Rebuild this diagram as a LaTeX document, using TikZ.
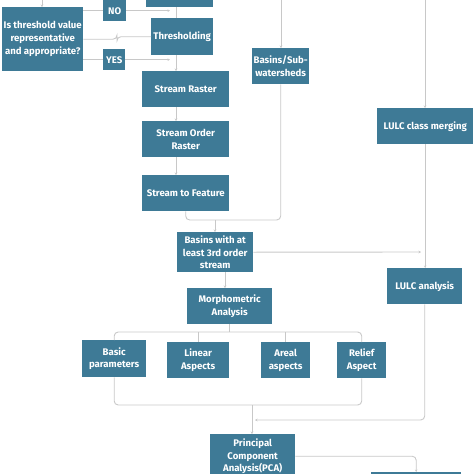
\documentclass[tikz,border=0pt]{standalone}
\usepackage{fontspec}
\setmainfont{Fira Sans}
\usetikzlibrary{arrows.meta}
\definecolor{boxc}{RGB}{62,122,150}
\definecolor{linec}{RGB}{200,200,200}
\tikzset{
  box/.style={fill=boxc, text=white, font=\bfseries\fontsize{9.6}{12.8}\selectfont, align=center, inner sep=0pt, anchor=north west},
  conn/.style={draw=linec, line width=0.9pt, rounded corners=4pt},
  arr/.style={conn, -{Stealth[length=2.5pt,width=2.5pt]}},
}
\begin{document}
\begin{tikzpicture}[x=1pt,y=-1pt]
\useasboundingbox (0,0) rectangle (474,474);
\clip (0,0) rectangle (474,474);
% boxes
\node[box,minimum width=67pt,minimum height=27pt] (topb) at (146,-20) {};
\node[box,minimum width=81pt,minimum height=64pt] (dec) at (2,7) {Is threshold value\\representative\\and appropriate?};
\node[box,minimum width=23pt,minimum height=21pt] (no) at (103,0) {NO};
\node[box,minimum width=62pt,minimum height=37pt] (thr) at (151,18) {Thresholding};
\node[box,minimum width=22pt,minimum height=21pt] (yes) at (103,49) {YES};
\node[box,minimum width=87pt,minimum height=36pt] (sr) at (142,71) {Stream Raster};
\node[box,minimum width=87pt,minimum height=36pt] (sor) at (142,121) {Stream Order\\Raster};
\node[box,minimum width=87pt,minimum height=36pt] (stf) at (142,175) {Stream to Feature};
\node[box,minimum width=57pt,minimum height=36pt] (bsub) at (252,48) {Basins/Sub-\\watersheds};
\node[box,minimum width=96pt,minimum height=36pt] (lcm) at (377,108) {LULC class merging};
\node[box,minimum width=76pt,minimum height=40pt] (b3) at (177,232) {Basins with at\\least 3rd order\\stream};
\node[box,minimum width=85pt,minimum height=36pt] (morph) at (187,288) {Morphometric\\Analysis};
\node[box,minimum width=75pt,minimum height=36pt] (lulc) at (387,268) {LULC analysis};
\node[box,minimum width=64pt,minimum height=37pt] (basic) at (82,340) {Basic\\parameters};
\node[box,minimum width=62pt,minimum height=36pt] (lin) at (167,342) {Linear\\Aspects};
\node[box,minimum width=49pt,minimum height=36pt] (are) at (261,342) {Areal\\aspects};
\node[box,minimum width=49pt,minimum height=36pt] (rel) at (337,342) {Relief\\Aspect};
\node[box,minimum width=85pt,minimum height=44pt] (pca) at (210,434) {Principal\\Component\\Analysis(PCA)};
\node[box,minimum width=90pt,minimum height=30pt] (bot) at (371,472) {};
% free ends and junctions
\coordinate (in1) at (42,-2);
\coordinate (in2) at (281,-2);
\coordinate (in3) at (425,-2);
\coordinate (vx) at (176,0);
\coordinate (noend) at (170,0);
\coordinate (j1) at (215,220);
\coordinate (b3end) at (421,252);
\coordinate (x225) at (225,0);
\coordinate (br) at (230,332);
\coordinate (j2) at (252,405);
\coordinate (j3) at (255,420);
% connectors
\draw[arr] (in1) -- (in1 |- dec.north);
\draw[conn] (dec.east |- no) -- (no.west);
\draw[arr] (no.east) -- (noend |- no);
\draw[conn] (thr.west) -- ++(-34,0) |- (dec.east);
\draw[conn] (dec.east |- yes) -- (yes.west);
\draw[arr] (yes.east) -- (noend |- yes);
\draw[conn] (vx |- topb.south) -- (vx |- thr.north);
\draw[arr] (vx |- thr.south) -- (vx |- sr.north);
\draw[arr] (vx |- sr.south) -- (vx |- sor.north);
\draw[arr] (vx |- sor.south) -- (vx |- stf.north);
\draw[conn] (stf.south) -- (stf.south |- j1) -- (bsub.south |- j1) -- (bsub.south);
\draw[arr] (j1) -- (j1 |- b3.north);
\draw[arr] (in2) -- (in2 |- bsub.north);
\draw[arr] (in3) -- (in3 |- lcm.north);
\draw[arr] (lcm.south) -- (lcm.south |- lulc.north);
\draw[arr] (lulc.south) -- (lulc.south |- j3) -- (j3);
\draw[arr] (b3.east) -- (b3end);
\draw[arr] (x225 |- b3.south) -- (x225 |- morph.north);
\draw[conn] (morph.south) -- (morph.south |- br);
\draw[conn] (basic.north) -- (basic.north |- br) -- (rel.north |- br) -- (rel.north);
\draw[conn] (lin.north |- br) -- (lin.north);
\draw[conn] (are.north |- br) -- (are.north);
\draw[conn] (basic.south) -- (basic.south |- j2) -- (rel.south |- j2) -- (rel.south);
\draw[arr] (j2) -- (j2 |- pca.north);
\draw[arr] (pca.east) -| (bot.north);
\end{tikzpicture}
\end{document}
